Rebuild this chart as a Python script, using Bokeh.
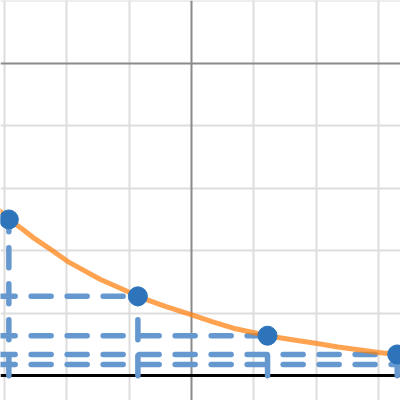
from bokeh.plotting import figure
from bokeh.models import Range1d, Grid, FixedTicker
from bokeh.embed import file_html
from bokeh.resources import INLINE

# points on the decay curve (x in grid cells, y above the base line)
pt_x = [-2.93, -0.86, 1.22, 3.30, 5.37]
pt_y = [2.50, 1.27, 0.64, 0.34, 0.18]

# orange curve
curve_x = [-3.10, -2.93, -2.72, -2.54, -2.26, -1.99, -1.72, -1.46, -1.14, -0.86, -0.62,
           -0.42, -0.02, 0.34, 0.67, 0.95, 1.22, 1.59, 1.99, 2.35, 2.71, 3.00, 3.30, 3.55]
curve_y = [2.66, 2.50, 2.35, 2.21, 2.02, 1.83, 1.68, 1.54, 1.40, 1.27, 1.18,
           1.11, 0.98, 0.86, 0.76, 0.70, 0.64, 0.58, 0.52, 0.46, 0.41, 0.37, 0.34, 0.31]

# grid
grid_x = [-3, -2, -1, 1, 2, 3]
grid_y = [1, 2, 3, 4, 6]
dark_x = [0]
dark_y = [5]
base_y = [0]
dash_from = -3.15   # where the horizontal guide lines start

BLUE = "#2e74bb"
GUIDE = "#6598cf"
ORANGE = "#ff7f0e"

p = figure(width=400, height=400, output_backend="svg", toolbar_location=None,
           x_range=Range1d(-3.064, 3.353), y_range=Range1d(-0.397, 6.003),
           x_axis_location=None, y_axis_location=None, min_border=0)
p.outline_line_color = None
p.grid.grid_line_color = None

p.add_layout(Grid(dimension=0, ticker=FixedTicker(ticks=grid_x),
                  grid_line_color="#dddddd", grid_line_width=2))
p.add_layout(Grid(dimension=1, ticker=FixedTicker(ticks=grid_y),
                  grid_line_color="#dddddd", grid_line_width=2))
p.add_layout(Grid(dimension=0, ticker=FixedTicker(ticks=dark_x),
                  grid_line_color="#8a8a8a", grid_line_width=2))
p.add_layout(Grid(dimension=1, ticker=FixedTicker(ticks=dark_y),
                  grid_line_color="#8a8a8a", grid_line_width=2))

p.hspan(y=base_y, line_color="black", line_width=3)

n = len(pt_x)
# guides: up from the base line, and across from the left
p.segment(x0=pt_x, y0=base_y * n, x1=pt_x, y1=pt_y, line_color=GUIDE,
          line_width=5.5, line_dash="20 16", line_cap="round")
p.segment(x0=[dash_from] * n, y0=pt_y, x1=pt_x, y1=pt_y, line_color=GUIDE,
          line_width=5.5, line_dash="20 16", line_cap="round")

p.line(curve_x, curve_y, line_color=ORANGE, line_alpha=0.72, line_width=5, line_join="round")
p.scatter(pt_x, pt_y, size=19, color=BLUE)

open("out.html", "w").write(file_html(p, INLINE))
